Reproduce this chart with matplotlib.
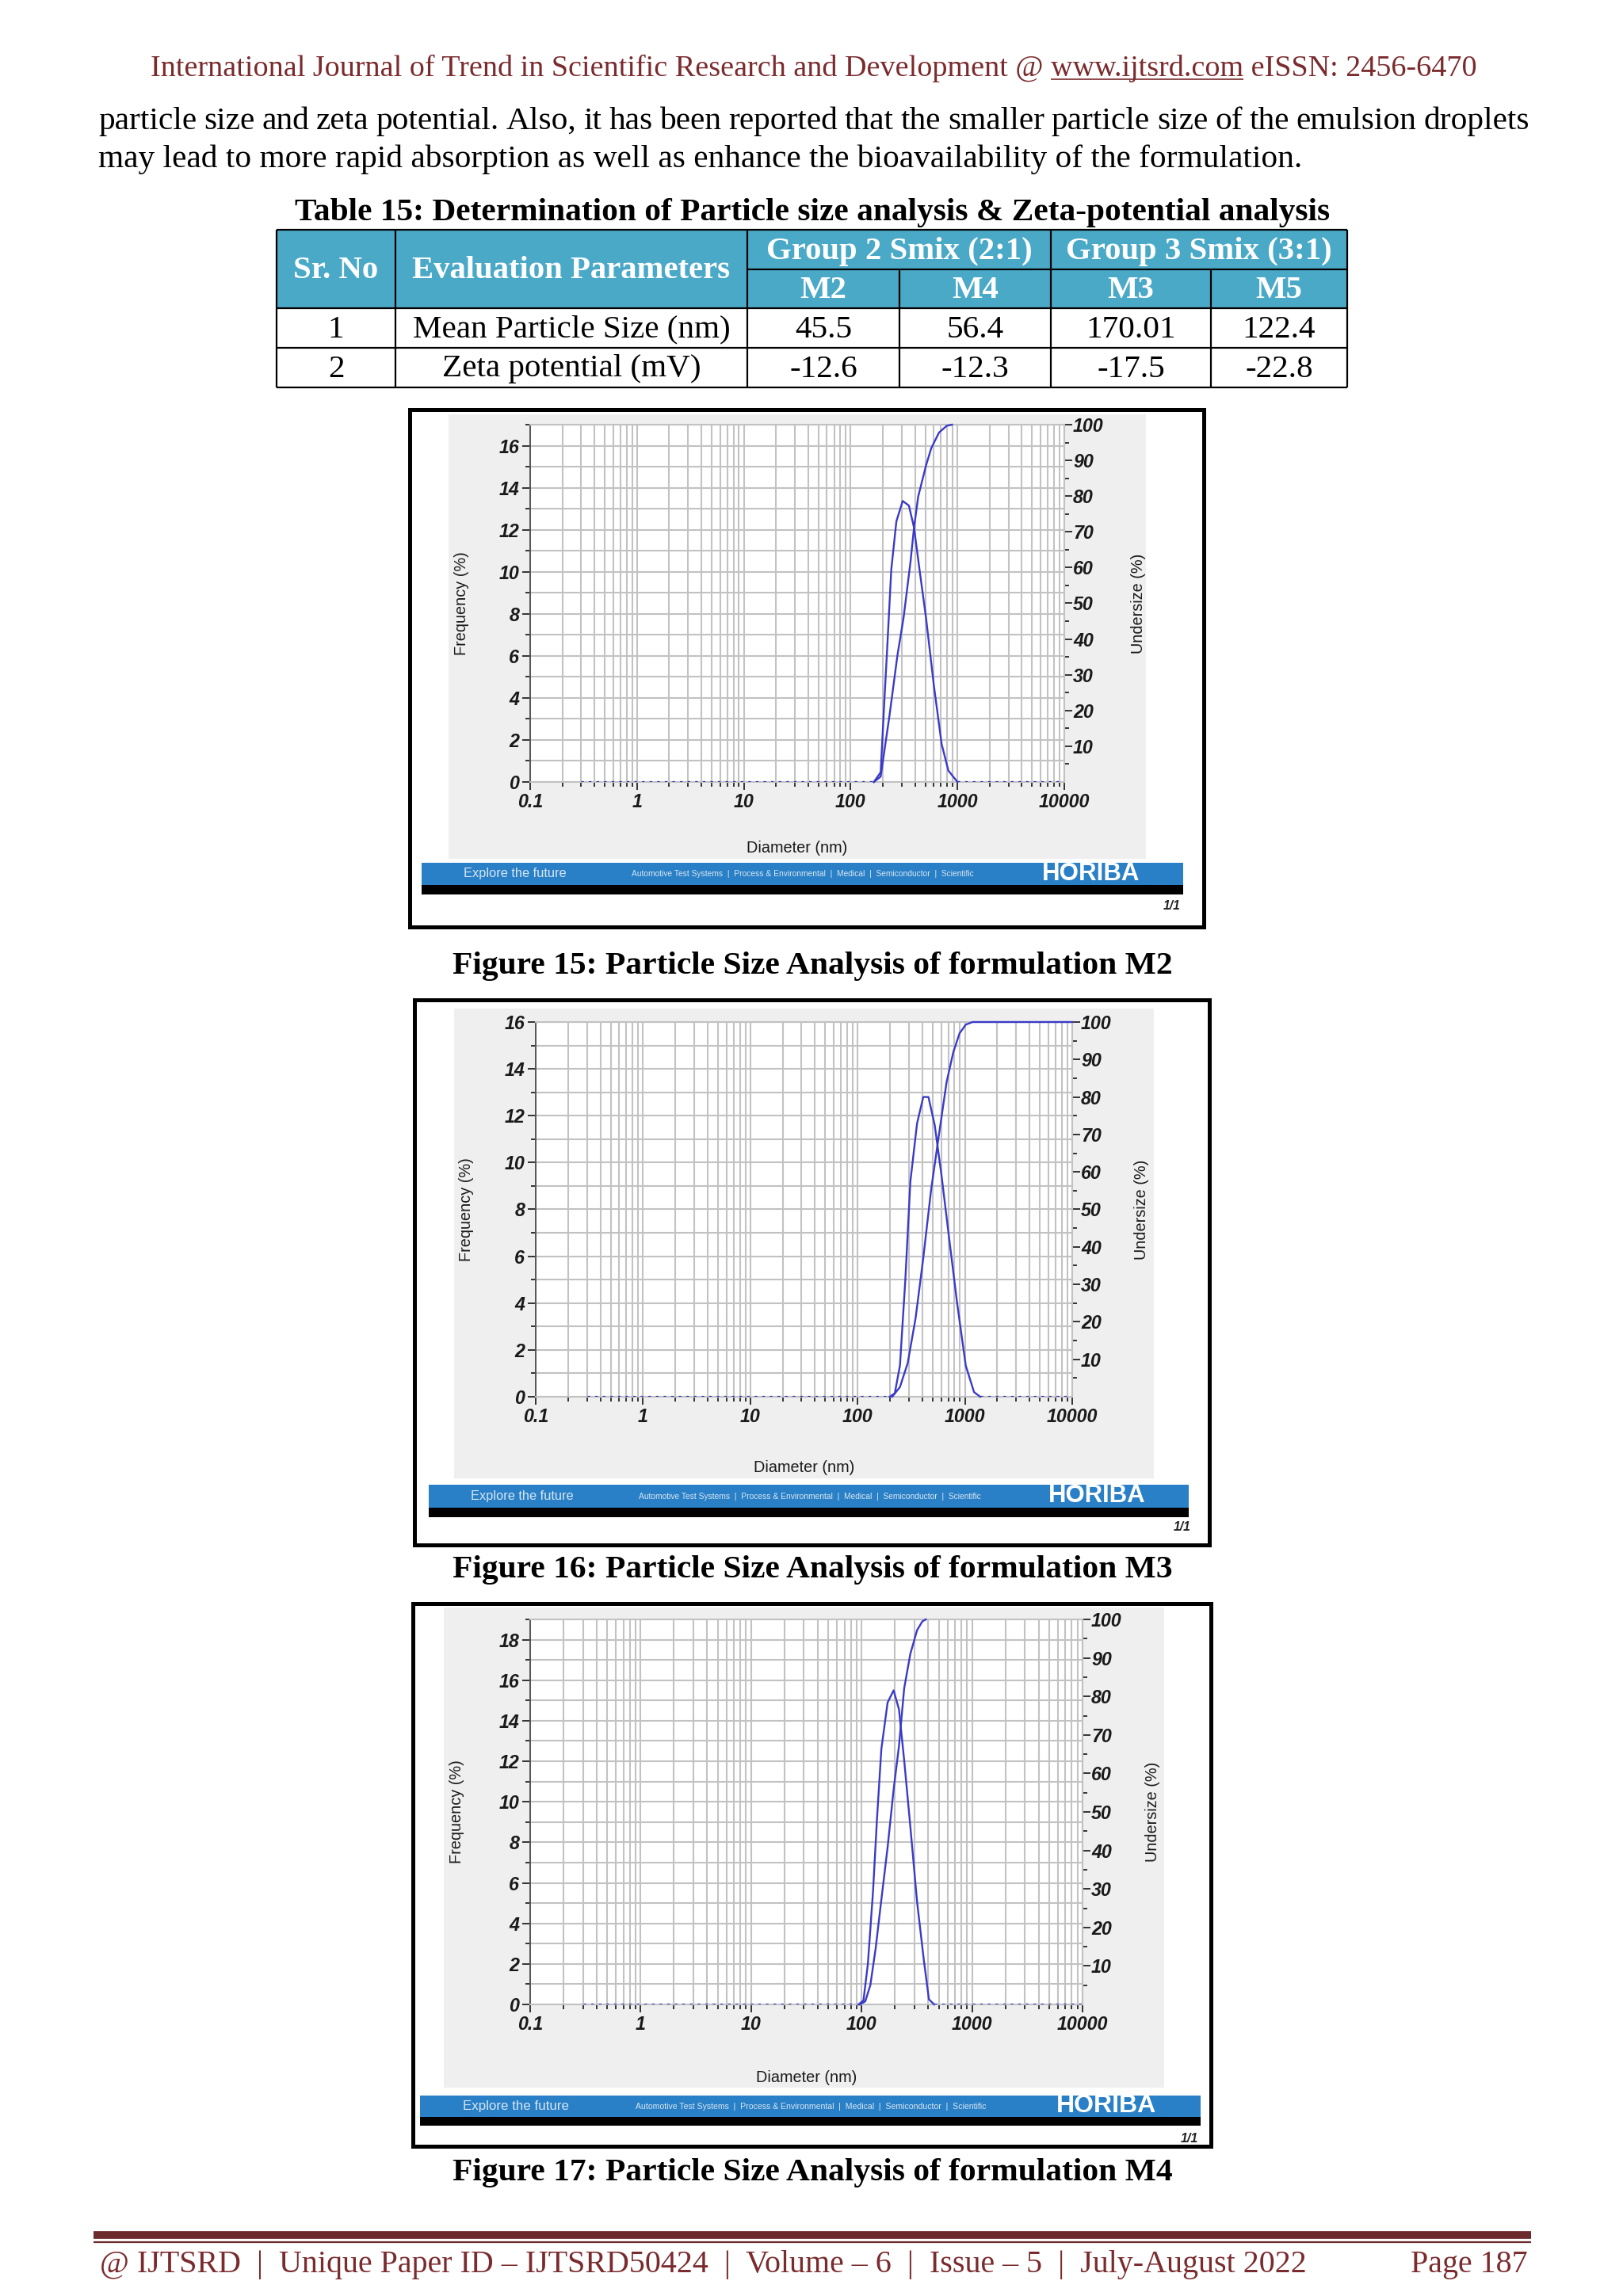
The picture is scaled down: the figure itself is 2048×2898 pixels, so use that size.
import matplotlib
matplotlib.use("Agg")
import matplotlib.pyplot as plt
import matplotlib.ticker as mticker
from matplotlib.patches import Rectangle
from matplotlib.lines import Line2D

# ---------------- data ----------------
header_pre = "International Journal of Trend in Scientific Research and Development @ "
header_url = "www.ijtsrd.com"
header_post = " eISSN: 2456-6470"
body_line1 = "particle size and zeta potential. Also, it has been reported that the smaller particle size of the emulsion droplets"
body_line2 = "may lead to more rapid absorption as well as enhance the bioavailability of the formulation."
table_caption = "Table 15: Determination of Particle size analysis & Zeta-potential analysis"
table_head = ["Sr. No", "Evaluation Parameters"]
table_groups = ["Group 2 Smix (2:1)", "Group 3 Smix (3:1)"]
formulations = ["M2", "M4", "M3", "M5"]
table_sr = ["1", "2"]
table_params = ["Mean Particle Size (nm)", "Zeta potential (mV)"]
mean_size = ["45.5", "56.4", "170.01", "122.4"]
zeta_potential = ["-12.6", "-12.3", "-17.5", "-22.8"]

fig_captions = ["Figure 15: Particle Size Analysis of formulation M2",
                "Figure 16: Particle Size Analysis of formulation M3",
                "Figure 17: Particle Size Analysis of formulation M4"]
footer_text = "@ IJTSRD  |  Unique Paper ID \u2013 IJTSRD50424  |  Volume \u2013 6  |  Issue \u2013 5  |  July-August 2022"
footer_page = "Page 187"

x_ticks_nm = [0.1, 1, 10, 100, 1000, 10000]
x_tick_labels = ["0.1", "1", "10", "100", "1000", "10000"]
baseline_start_nm = 0.3
baseline_end_nm = 10000

# M2 (Figure 15)
m2_freq_dia = [165, 191, 207, 219, 240, 268, 307, 351, 392, 444, 508, 601, 711, 822, 1000]
m2_freq = [0, 0.46, 3.9, 6.2, 10.1, 12.4, 13.37, 13.15, 12.1, 10.0, 7.8, 4.6, 1.8, 0.54, 0]
m2_und_dia = [165, 191, 232, 274, 313, 363, 392, 429, 508, 568, 672, 795, 889]
m2_und = [0, 1.5, 19, 35.4, 46, 61.5, 71.2, 79.9, 88.6, 93.4, 97.8, 99.7, 100]
m2_freq_max = 17

# M3 (Figure 16)
m3_freq_dia = [199, 222, 248, 278, 310, 358, 409, 457, 523, 604, 713, 843, 1018, 1216, 1389]
m3_freq = [0, 0.15, 1.33, 4.95, 9.18, 11.67, 12.8, 12.8, 11.6, 9.48, 6.76, 4.05, 1.33, 0.2, 0]
m3_und_dia = [210, 248, 293, 347, 409, 483, 573, 675, 780, 892, 1018, 1177, 10000]
m3_und = [0, 2.6, 9, 21, 37, 55, 70, 84, 92, 97, 99.3, 100, 100]
m3_freq_max = 16

# M4 (Figure 17)
m4_freq_dia = [94, 104, 114, 127, 138, 151, 172, 195, 218, 243, 276, 318, 366, 407, 454]
m4_freq = [0, 0.2, 2.0, 5.6, 9.2, 12.6, 14.9, 15.5, 14.56, 12.05, 8.8, 5.06, 2.19, 0.25, 0]
m4_und_dia = [96, 108, 120, 134, 149, 172, 195, 218, 243, 276, 318, 355, 382]
m4_und = [0, 0.8, 5, 14.5, 25.8, 40.8, 55.8, 67.1, 82.1, 91, 97.2, 99.5, 100]
m4_freq_max = 19

bar_left_text = "Explore the future"
bar_mid_text = "Automotive Test Systems  |  Process & Environmental  |  Medical  |  Semiconductor  |  Scientific"
bar_brand = "HORIBA"
page_mark = "1/1"

# ---------------- setup ----------------
W, H = 2048, 2898
fig = plt.figure(figsize=(W / 100, H / 100), dpi=100)
fig.patch.set_facecolor("white")
renderer = fig.canvas.get_renderer()

SERIF = "Liberation Serif"
SANS = "Liberation Sans"
RED = "#7a2b2e"
BLUE = "#3a3ac8"
GRID = "#c2c2c2"
PANEL = "#efefef"
TEAL = "#4ba9c8"
BARBLUE = "#2a80c6"


def fx(x):
    return x / W


def fy(y):
    return 1 - y / H


def rect(x0, y0, x1, y1, **kw):
    fig.add_artist(Rectangle((fx(x0), fy(y1)), (x1 - x0) / W, (y1 - y0) / H,
                             transform=fig.transFigure, **kw))


def line(x0, y0, x1, y1, lw, color):
    fig.add_artist(Line2D([fx(x0), fx(x1)], [fy(y0), fy(y1)], transform=fig.transFigure,
                          lw=lw, color=color, solid_capstyle="butt"))


def measure(s, size, **kw):
    t = fig.text(0, 0, s, fontsize=size, **kw)
    w = t.get_window_extent(renderer).width
    t.remove()
    return w


def fit(s, width, **kw):
    return 40 * width / measure(s, 40, **kw)


def text(x, y, s, **kw):
    return fig.text(fx(x), fy(y), s, **kw)


# ---------------- header ----------------
hdr_full = header_pre + header_url + header_post
hsize = fit(hdr_full, 1668, family=SERIF)
hx0 = 1024 - 1668 / 2
text(hx0, 96, hdr_full, fontsize=hsize, family=SERIF, color=RED, ha="left", va="baseline")
wA = measure(header_pre + header_url, hsize, family=SERIF)
wU = measure(header_url, hsize, family=SERIF)
line(hx0 + wA - wU, 100, hx0 + wA, 100, 1.2, RED)

# ---------------- body ----------------
bsize = fit(body_line2, 1516, family=SERIF)
text(124, 211, body_line2, fontsize=bsize, family=SERIF, color="black", ha="left", va="baseline")
words = body_line1.split()
ww = [measure(w_, bsize, family=SERIF) for w_ in words]
gap = (1930 - 124 - sum(ww)) / (len(words) - 1)
xcur = 124
for w_, wd in zip(words, ww):
    text(xcur, 163, w_, fontsize=bsize, family=SERIF, color="black", ha="left", va="baseline")
    xcur += wd + gap

# ---------------- table ----------------
tsize = fit(table_caption, 1306, family=SERIF, weight="bold")
text(1025, 278, table_caption, fontsize=tsize, family=SERIF, weight="bold", ha="center", va="baseline")

cols = [349, 499, 943, 1135, 1326, 1528, 1700]
rows = [290, 340, 389, 439, 489]
rect(cols[0], rows[0], cols[-1], rows[2], facecolor=TEAL, edgecolor="none")
cell_size = fit(table_params[0], 400, family=SERIF)
head_size = fit(table_head[1], 402, family=SERIF, weight="bold")
lw_t = 1.6
for yv in [rows[0], rows[2], rows[3], rows[4]]:
    line(cols[0], yv, cols[-1], yv, lw_t, "black")
line(cols[2], rows[1], cols[-1], rows[1], lw_t, "black")
for xv in [cols[0], cols[1], cols[2], cols[4], cols[-1]]:
    line(xv, rows[0], xv, rows[-1], lw_t, "black")
for xv in [cols[3], cols[5]]:
    line(xv, rows[1], xv, rows[-1], lw_t, "black")

ymid_head = (rows[0] + rows[2]) / 2
for i, s in enumerate(table_head):
    text((cols[i] + cols[i + 1]) / 2, ymid_head + 2, s, fontsize=head_size, family=SERIF,
         weight="bold", color="white", ha="center", va="center")
for g, s in enumerate(table_groups):
    text((cols[2 + 2 * g] + cols[4 + 2 * g]) / 2, (rows[0] + rows[1]) / 2 + 2, s, fontsize=head_size,
         family=SERIF, weight="bold", color="white", ha="center", va="center")
for j, s in enumerate(formulations):
    text((cols[2 + j] + cols[3 + j]) / 2, (rows[1] + rows[2]) / 2 + 2, s, fontsize=head_size,
         family=SERIF, weight="bold", color="white", ha="center", va="center")
for r, (sr, par, vals) in enumerate(zip(table_sr, table_params, [mean_size, zeta_potential])):
    yc = (rows[2 + r] + rows[3 + r]) / 2 + 2
    text((cols[0] + cols[1]) / 2, yc, sr, fontsize=cell_size, family=SERIF, ha="center", va="center")
    text((cols[1] + cols[2]) / 2, yc, par, fontsize=cell_size, family=SERIF, ha="center", va="center")
    for j, v in enumerate(vals):
        text((cols[2 + j] + cols[3 + j]) / 2, yc, v, fontsize=cell_size, family=SERIF,
             ha="center", va="center")

# ---------------- charts ----------------
tick_size = 1.2 * fit("10000", 54, family=SANS, weight="bold", style="italic")
lab_size = 1.05 * fit("Frequency (%)", 124, family=SANS)
cap_size = fit(fig_captions[0], 907, family=SERIF, weight="bold")

layouts = [
    dict(box=(517, 517, 1519, 1170), panel=(566, 523, 1446, 1084), plot=(669, 1343, 536, 987),
         bar=(532, 1089, 1493, 1117, 1129), mark=(1480, 1143), flab=582, ulab=1436, dlab=1070, cap=1229),
    dict(box=(523, 1262, 1526, 1950), panel=(573, 1273, 1456, 1866), plot=(676, 1353, 1290, 1763),
         bar=(541, 1874, 1500, 1903, 1915), mark=(1493, 1928), flab=588, ulab=1441, dlab=1852, cap=1991),
    dict(box=(521, 2024, 1528, 2709), panel=(560, 2029, 1469, 2635), plot=(669, 1366, 2044, 2530),
         bar=(530, 2645, 1515, 2672, 2683), mark=(1502, 2700), flab=577, ulab=1454, dlab=2622, cap=2752),
]
datasets = [
    (m2_freq_dia, m2_freq, m2_und_dia, m2_und, m2_freq_max),
    (m3_freq_dia, m3_freq, m3_und_dia, m3_und, m3_freq_max),
    (m4_freq_dia, m4_freq, m4_und_dia, m4_und, m4_freq_max),
]

for L, (fd, fv, ud, uv, fmax), cap in zip(layouts, datasets, fig_captions):
    bx0, by0, bx1, by1 = L["box"]
    rect(bx0, by0, bx1, by1, facecolor="white", edgecolor="black", lw=3.6, zorder=-3)
    px0, py0, px1, py1 = L["panel"]
    rect(px0, py0, px1, py1, facecolor=PANEL, edgecolor="none", zorder=-2)
    ax0, ax1_, y0, y1 = L["plot"]
    ax = fig.add_axes([fx(ax0), fy(y1), (ax1_ - ax0) / W, (y1 - y0) / H])
    ax.set_zorder(1)
    ax.set_facecolor("white")
    ax.set_xscale("log")
    ax.set_xlim(x_ticks_nm[0], x_ticks_nm[-1])
    ax.set_ylim(0, fmax)
    ax.set_xticks(x_ticks_nm)
    ax.set_xticklabels(x_tick_labels)
    ax.xaxis.set_minor_locator(mticker.LogLocator(base=10, subs=range(2, 10), numticks=100))
    ax.xaxis.set_minor_formatter(mticker.NullFormatter())
    ax.set_yticks(list(range(0, fmax + 1, 2)))
    ax.set_yticks(list(range(1, fmax + 1, 2)), minor=True)
    ax.grid(which="both", color=GRID, lw=1.5)
    ax.set_axisbelow(True)
    for sp in ["top", "right", "bottom"]:
        ax.spines[sp].set_color(GRID)
        ax.spines[sp].set_linewidth(1.5)
    ax.spines["left"].set_color("#555555")
    ax.spines["left"].set_linewidth(1.4)
    ax.tick_params(which="major", direction="out", length=7, width=1.4, color="#333333", pad=3)
    ax.tick_params(which="minor", direction="out", length=4, width=1.4, color="#333333")
    for lab in ax.get_xticklabels() + ax.get_yticklabels():
        lab.set_fontfamily(SANS)
        lab.set_fontweight("bold")
        lab.set_fontstyle("italic")
        lab.set_fontsize(tick_size)
        lab.set_color("#1a1a1a")
    ax.plot([baseline_start_nm, fd[0]], [0, 0], ls=(0, (1, 2.0)), color="#2f2fb8", lw=2.3, zorder=3)
    ax.plot([fd[-1], baseline_end_nm], [0, 0], ls=(0, (1, 2.0)), color="#2f2fb8", lw=2.3, zorder=3)
    ax.plot(fd, fv, color=BLUE, lw=1.7, zorder=4, clip_on=False)

    ax2 = ax.twinx()
    ax2.set_zorder(2)
    ax2.patch.set_visible(False)
    ax2.set_ylim(0, 100)
    ax2.set_yticks(list(range(10, 101, 10)))
    ax2.set_yticks(list(range(5, 100, 10)), minor=True)
    for sp in ["top", "left", "bottom"]:
        ax2.spines[sp].set_visible(False)
    ax2.spines["right"].set_color(GRID)
    ax2.spines["right"].set_linewidth(1.5)
    ax2.tick_params(which="major", direction="out", length=7, width=1.4, color="#333333", pad=1)
    ax2.tick_params(which="minor", direction="out", length=4, width=1.4, color="#333333")
    for lab in ax2.get_yticklabels():
        lab.set_fontfamily(SANS)
        lab.set_fontweight("bold")
        lab.set_fontstyle("italic")
        lab.set_fontsize(tick_size)
        lab.set_color("#1a1a1a")
    ax2.plot(ud, uv, color=BLUE, lw=1.7, zorder=4, clip_on=False)

    ymid = (y0 + y1) / 2
    text(L["flab"], ymid, "Frequency (%)", fontsize=lab_size, family=SANS, rotation=90,
         ha="center", va="center", color="#1a1a1a")
    text(L["ulab"], ymid, "Undersize (%)", fontsize=lab_size, family=SANS, rotation=90,
         ha="center", va="center", color="#1a1a1a")
    text((ax0 + ax1_) / 2, L["dlab"], "Diameter (nm)", fontsize=lab_size, family=SANS,
         ha="center", va="center", color="#1a1a1a")

    bl, bt, br, bm, bb = L["bar"]
    rect(bl, bt, br, bm, facecolor=BARBLUE, edgecolor="none", zorder=1)
    rect(bl, bm, br, bb, facecolor="black", edgecolor="none", zorder=1)
    bw = br - bl
    bc = (bt + bm) / 2
    s1 = fit(bar_left_text, 0.135 * bw, family=SANS)
    text(bl + 0.055 * bw, bc, bar_left_text, fontsize=s1, family=SANS, color="#d6e6f4",
         ha="left", va="center", zorder=2)
    s2 = fit(bar_mid_text, 0.449 * bw, family=SANS)
    text(bl + 0.276 * bw, bc, bar_mid_text, fontsize=s2, family=SANS, color="#d6e6f4",
         ha="left", va="center", zorder=2)
    s3 = fit(bar_brand, 0.128 * bw, family=SANS, weight="bold")
    text(bl + 0.815 * bw, bc, bar_brand, fontsize=s3, family=SANS, weight="bold", color="white",
         ha="left", va="center", zorder=2)
    mx, my = L["mark"]
    text(mx + 10, my, page_mark, fontsize=s1 * 0.95, family=SANS, weight="bold", style="italic",
         color="#222222", ha="right", va="center")

    text(1025, L["cap"], cap, fontsize=cap_size, family=SERIF, weight="bold", ha="center", va="baseline")

# ---------------- footer ----------------
line(118, 2821, 1932, 2821, 7.0, "#6b2a2c")
line(118, 2830, 1932, 2830, 1.6, "#6b2a2c")
fsize = fit(footer_text, 1521, family=SERIF)
text(126, 2868, footer_text, fontsize=fsize, family=SERIF, color=RED, ha="left", va="baseline")
text(1928, 2868, footer_page, fontsize=fsize, family=SERIF, color=RED, ha="right", va="baseline")

fig.savefig("out.png", dpi=100, facecolor="white")
